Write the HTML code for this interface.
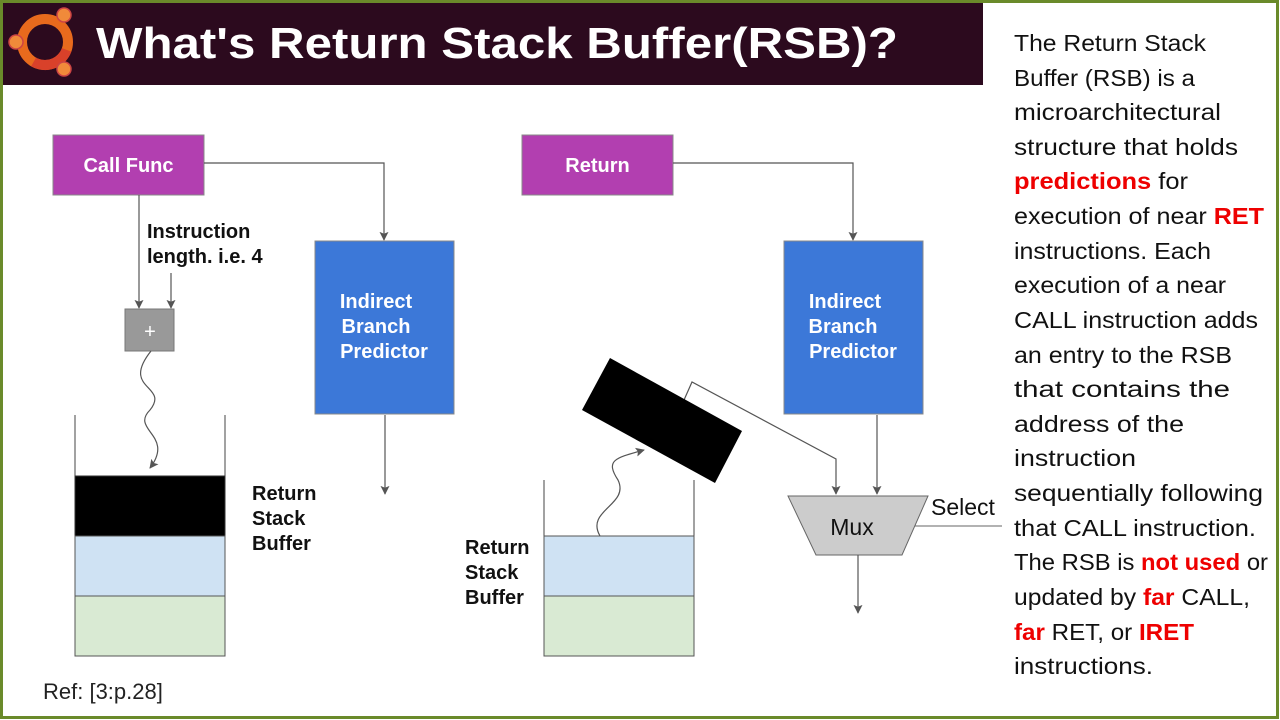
<!DOCTYPE html>
<html><head><meta charset="utf-8"><style>
html,body{margin:0;padding:0;background:#fff}
svg{display:block}
text{font-family:"Liberation Sans",sans-serif}
</style></head><body>
<svg width="1280" height="720" viewBox="0 0 1280 720" xmlns="http://www.w3.org/2000/svg">
<defs>
<marker id="b" viewBox="0 0 10 10" refX="9" refY="5" markerWidth="9" markerHeight="9" orient="auto" markerUnits="userSpaceOnUse">
<path d="M0,0 L10,5 L0,10 L2,5 Z" fill="#555"/>
</marker>
</defs>
<rect x="0" y="0" width="1280" height="720" fill="#fff"/>
<rect x="1.5" y="1.5" width="1276" height="716" fill="none" stroke="#6a8a2a" stroke-width="3"/>
<rect x="3" y="3" width="980" height="82" fill="#2c0a1e"/>
<circle cx="45" cy="42" r="23" fill="none" stroke="#e86a1d" stroke-width="10"/>
<circle cx="45" cy="42" r="23" fill="none" stroke="#d9412a" stroke-width="10" stroke-dasharray="40 200" transform="rotate(20 45 42)"/>
<circle cx="64" cy="15" r="7" fill="#f08a3a" stroke="#c44" stroke-width="1.5"/>
<circle cx="16" cy="42" r="7" fill="#f08a3a" stroke="#c44" stroke-width="1.5"/>
<circle cx="64" cy="69" r="7" fill="#f08a3a" stroke="#c44" stroke-width="1.5"/>
<text x="96" y="58" font-size="44" font-weight="bold" fill="#fff" textLength="802" lengthAdjust="spacingAndGlyphs">What's Return Stack Buffer(RSB)?</text>

<rect x="53" y="135" width="151" height="60" fill="#b23fb0" stroke="#888"/>
<text x="128.5" y="172" font-size="20" font-weight="bold" fill="#fff" text-anchor="middle">Call Func</text>
<path d="M204,163 H384 V240" fill="none" stroke="#555" stroke-width="1.2" marker-end="url(#b)"/>
<rect x="315" y="241" width="139" height="173" fill="#3c78d8" stroke="#888"/>
<text font-size="20" font-weight="bold" fill="#fff" text-anchor="middle"><tspan x="376" y="308">Indirect</tspan><tspan x="376" y="333">Branch</tspan><tspan x="384" y="358">Predictor</tspan></text>
<path d="M385,415 V494" stroke="#555" stroke-width="1.2" marker-end="url(#b)"/>
<path d="M139,195 V308" stroke="#555" stroke-width="1.2" marker-end="url(#b)"/>
<path d="M171,273 V308" stroke="#555" stroke-width="1.2" marker-end="url(#b)"/>
<text font-size="20" font-weight="bold" fill="#111"><tspan x="147" y="238">Instruction</tspan><tspan x="147" y="263">length. i.e. 4</tspan></text>
<rect x="125" y="309" width="49" height="42" fill="#999" stroke="#777"/>
<text x="150" y="338" font-size="20" fill="#fff" text-anchor="middle">+</text>
<path d="M151,351 C120,390 170,385 150,410 C130,430 175,435 150,468" fill="none" stroke="#555" stroke-width="1.2" marker-end="url(#b)"/>
<path d="M75,415 V476 M225,415 V476" stroke="#444" stroke-width="1"/>
<rect x="75" y="476" width="150" height="60" fill="#000" stroke="#333"/>
<rect x="75" y="536" width="150" height="60" fill="#cfe2f3" stroke="#555"/>
<rect x="75" y="596" width="150" height="60" fill="#d9ead3" stroke="#555"/>
<text font-size="20" font-weight="bold" fill="#111"><tspan x="252" y="500">Return</tspan><tspan x="252" y="525">Stack</tspan><tspan x="252" y="550">Buffer</tspan></text>
<text x="43" y="699" font-size="22" fill="#222">Ref: [3:p.28]</text>

<rect x="522" y="135" width="151" height="60" fill="#b23fb0" stroke="#888"/>
<text x="597.5" y="172" font-size="20" font-weight="bold" fill="#fff" text-anchor="middle">Return</text>
<path d="M673,163 H853 V240" fill="none" stroke="#555" stroke-width="1.2" marker-end="url(#b)"/>
<rect x="784" y="241" width="139" height="173" fill="#3c78d8" stroke="#888"/>
<text font-size="20" font-weight="bold" fill="#fff" text-anchor="middle"><tspan x="845" y="308">Indirect</tspan><tspan x="843" y="333">Branch</tspan><tspan x="853" y="358">Predictor</tspan></text>
<path d="M877,415 V494" stroke="#555" stroke-width="1.2" marker-end="url(#b)"/>
<path d="M684,400 L692,382 L836,459 V494" fill="none" stroke="#555" stroke-width="1.2" marker-end="url(#b)"/>
<polygon points="788,496 928,496 902,555 816,555" fill="#ccc" stroke="#666"/>
<text x="852" y="535" font-size="23" fill="#111" text-anchor="middle">Mux</text>
<path d="M915,526 H1002" stroke="#666" stroke-width="1"/>
<text x="931" y="515" font-size="23" fill="#111">Select</text>
<path d="M858,555 V613" stroke="#555" stroke-width="1.2" marker-end="url(#b)"/>
<polygon points="610,358 742,431 715,483 582,410" fill="#000"/>
<path d="M600,536 C585,510 630,505 618,480 C605,460 615,458 644,450" fill="none" stroke="#555" stroke-width="1.2" marker-end="url(#b)"/>
<path d="M544,480 V536 M694,480 V536" stroke="#444" stroke-width="1"/>
<rect x="544" y="536" width="150" height="60" fill="#cfe2f3" stroke="#555"/>
<rect x="544" y="596" width="150" height="60" fill="#d9ead3" stroke="#555"/>
<text font-size="20" font-weight="bold" fill="#111"><tspan x="465" y="554">Return</tspan><tspan x="465" y="579">Stack</tspan><tspan x="465" y="604">Buffer</tspan></text>

<g font-size="23" fill="#111" style="font-family:'DejaVu Sans','Liberation Sans',sans-serif">
<text x="1014" y="51" textLength="192" lengthAdjust="spacingAndGlyphs">The Return Stack</text>
<text x="1014" y="86" textLength="181" lengthAdjust="spacingAndGlyphs">Buffer (RSB) is a</text>
<text x="1014" y="120" textLength="207" lengthAdjust="spacingAndGlyphs">microarchitectural</text>
<text x="1014" y="155" textLength="224" lengthAdjust="spacingAndGlyphs">structure that holds</text>
<text x="1014" y="189" textLength="174" lengthAdjust="spacingAndGlyphs"><tspan fill="#e00" font-weight="bold">predictions</tspan> for</text>
<text x="1014" y="224" textLength="250" lengthAdjust="spacingAndGlyphs">execution of near <tspan fill="#e00" font-weight="bold">RET</tspan></text>
<text x="1014" y="259" textLength="197" lengthAdjust="spacingAndGlyphs">instructions. Each</text>
<text x="1014" y="293" textLength="212" lengthAdjust="spacingAndGlyphs">execution of a near</text>
<text x="1014" y="328" textLength="244" lengthAdjust="spacingAndGlyphs">CALL instruction adds</text>
<text x="1014" y="363" textLength="218" lengthAdjust="spacingAndGlyphs">an entry to the RSB</text>
<text x="1014" y="397" textLength="216" lengthAdjust="spacingAndGlyphs">that contains the</text>
<text x="1014" y="432" textLength="170" lengthAdjust="spacingAndGlyphs">address of the</text>
<text x="1014" y="466" textLength="122" lengthAdjust="spacingAndGlyphs">instruction</text>
<text x="1014" y="501" textLength="249" lengthAdjust="spacingAndGlyphs">sequentially following</text>
<text x="1014" y="536" textLength="242" lengthAdjust="spacingAndGlyphs">that CALL instruction.</text>
<text x="1014" y="570" textLength="254" lengthAdjust="spacingAndGlyphs">The RSB is <tspan fill="#e00" font-weight="bold">not used</tspan> or</text>
<text x="1014" y="605" textLength="236" lengthAdjust="spacingAndGlyphs">updated by <tspan fill="#e00" font-weight="bold">far</tspan> CALL,</text>
<text x="1014" y="640" textLength="180" lengthAdjust="spacingAndGlyphs"><tspan fill="#e00" font-weight="bold">far</tspan> RET, or <tspan fill="#e00" font-weight="bold">IRET</tspan></text>
<text x="1014" y="674" textLength="139" lengthAdjust="spacingAndGlyphs">instructions.</text>
</g>
</svg>
</body></html>
